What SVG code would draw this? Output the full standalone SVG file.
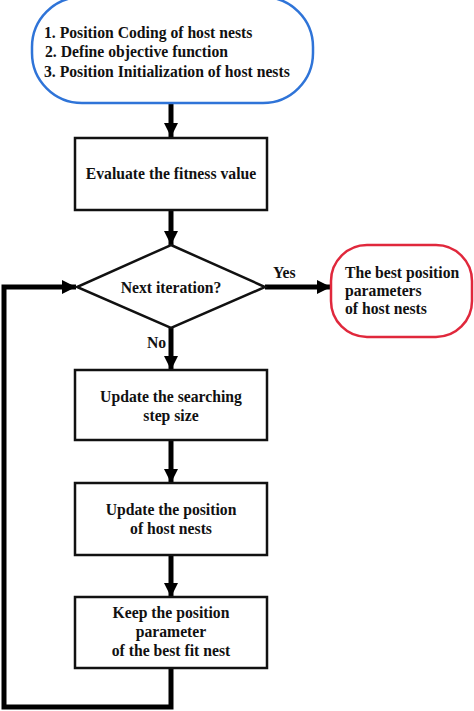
<svg xmlns="http://www.w3.org/2000/svg" width="474" height="711" viewBox="0 0 474 711">
<style>
text{font-family:"Liberation Serif","Times New Roman","DejaVu Serif",serif;font-weight:700;font-size:15.7px;fill:#111}
.box{fill:#fff;stroke:#111;stroke-width:2.5}
.c{stroke:#000;stroke-width:5;fill:none}
.m{text-anchor:middle}
</style>
<defs>
<marker id="ah" markerUnits="userSpaceOnUse" markerWidth="16" markerHeight="14" refX="14" refY="7" orient="auto">
<path d="M0,0 L14,7 L0,14 Z" fill="#000"/>
</marker>
</defs>
<g id="connectors">
<line class="c" x1="171" y1="104" x2="171" y2="137" marker-end="url(#ah)"/>
<line class="c" x1="171" y1="210" x2="171" y2="245" marker-end="url(#ah)"/>
<line class="c" x1="265" y1="287" x2="331" y2="287" marker-end="url(#ah)"/>
<line class="c" x1="171" y1="328" x2="171" y2="370" marker-end="url(#ah)"/>
<line class="c" x1="171" y1="440" x2="171" y2="483" marker-end="url(#ah)"/>
<line class="c" x1="171" y1="555" x2="171" y2="597" marker-end="url(#ah)"/>
<polyline class="c" points="171,668 171,707 4,707 4,287 76,287" marker-end="url(#ah)"/>
<text x="273" y="278">Yes</text>
<text x="147" y="348">No</text>
</g>
<g id="start">
<rect x="32" y="-3" width="281" height="106" rx="50" ry="50" fill="#fff" stroke="#2f74d8" stroke-width="2.5"/>
<text x="44" y="38">1. Position Coding of host nests</text>
<text x="45" y="57">2. Define objective function</text>
<text x="44" y="77">3. Position Initialization of host nests</text>
</g>
<g id="evaluate">
<rect class="box" x="75" y="138" width="192" height="72"/>
<text class="m" x="171" y="179">Evaluate the fitness value</text>
</g>
<g id="decision">
<polygon points="171,245 265,287 171,328 77,287" fill="#fff" stroke="#111" stroke-width="2.5"/>
<text class="m" x="171" y="293">Next iteration?</text>
</g>
<g id="result">
<rect x="331" y="245" width="141" height="92" rx="36" ry="36" fill="#fff" stroke="#e0283c" stroke-width="2.5"/>
<text x="345" y="278">The best position</text>
<text x="345" y="296">parameters</text>
<text x="345" y="314">of host nests</text>
</g>
<g id="step">
<rect class="box" x="75" y="370" width="192" height="70"/>
<text class="m" x="171" y="402">Update the searching</text>
<text class="m" x="171" y="421">step size</text>
</g>
<g id="update">
<rect class="box" x="75" y="483" width="192" height="72"/>
<text class="m" x="171" y="515">Update the position</text>
<text class="m" x="171" y="534">of host nests</text>
</g>
<g id="keep">
<rect class="box" x="75" y="597" width="192" height="71"/>
<text class="m" x="171" y="618">Keep the position</text>
<text class="m" x="171" y="637">parameter</text>
<text class="m" x="171" y="656">of the best fit nest</text>
</g>
</svg>
